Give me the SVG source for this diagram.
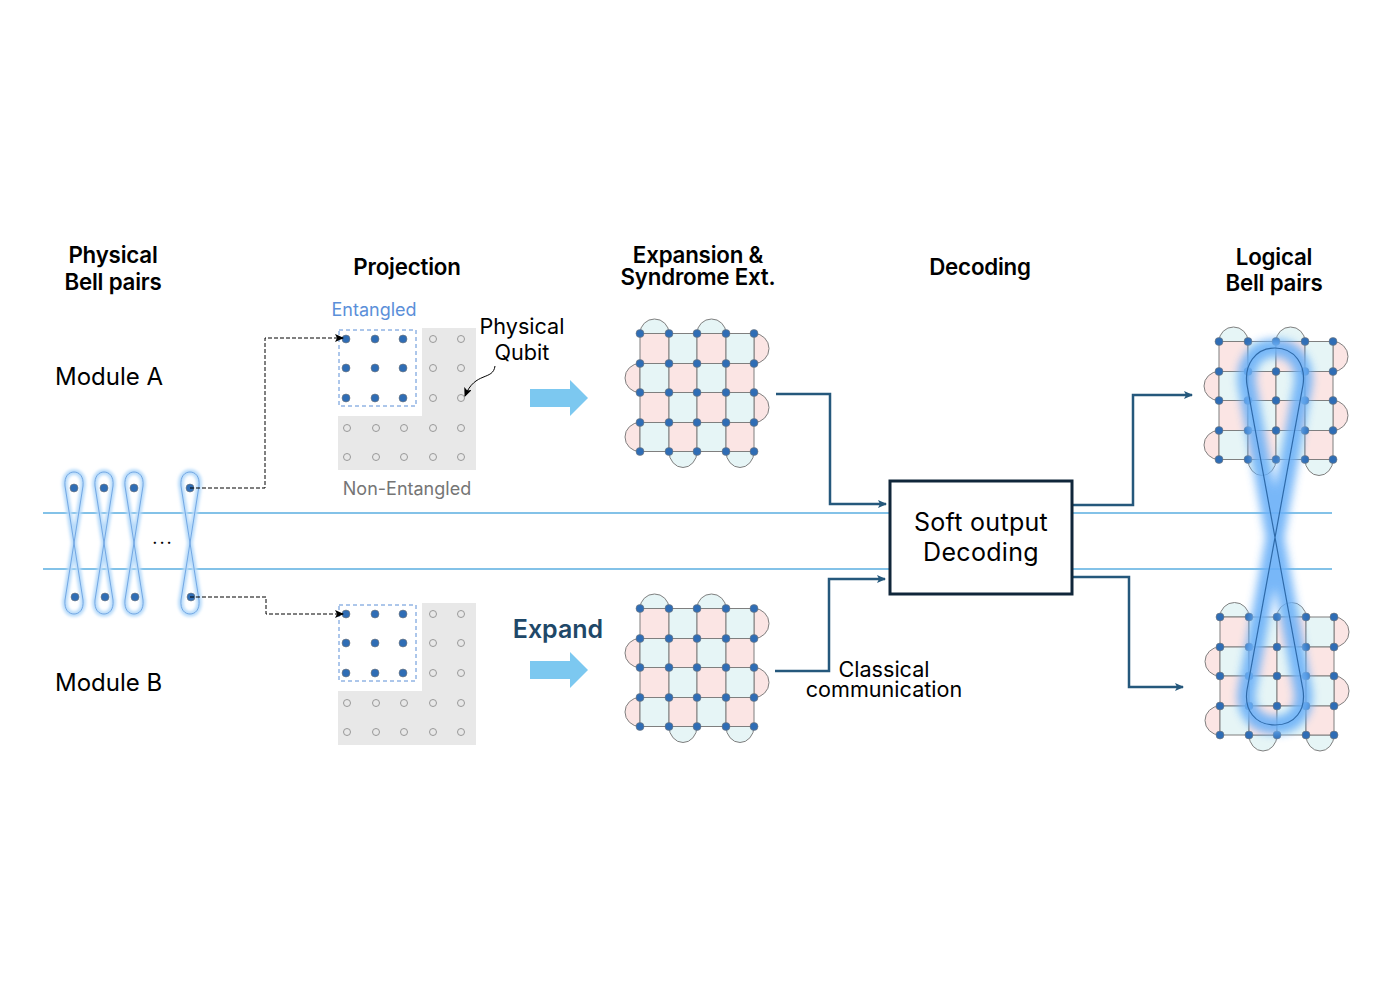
<svg xmlns="http://www.w3.org/2000/svg" xmlns:xlink="http://www.w3.org/1999/xlink" width="1388" height="988" viewBox="0 0 1388 988">
<style>
text{font-family:"Inter","Liberation Sans",sans-serif;fill:#000;text-anchor:middle}
.h{font-size:22.300px;font-weight:600;letter-spacing:-.2px}
.m{font-size:24px;text-anchor:start}
.l{font-size:21.600px}
.flow{fill:none;stroke:#25587c;stroke-width:2.500}
.dash{fill:none;stroke:#000;stroke-width:1;stroke-dasharray:4 2}
.lane{stroke:#5aaee0;stroke-width:1.500}
.p{fill:#fbe5e4;stroke:#7f7f7f;stroke-width:1}
.t{fill:#e6f5f6;stroke:#7f7f7f;stroke-width:1}
.d{fill:#2f6db5;stroke:#777;stroke-width:.6}
.o{fill:none;stroke:#999;stroke-width:1}
.gray{fill:#e8e8e8}
.sq{fill:#fff;stroke:#5b8ed6;stroke-width:1;stroke-dasharray:4 3}
.big{fill:#7cc8f0}
</style>
<defs>
<filter id="blur1" x="-60%" y="-10%" width="220%" height="120%"><feGaussianBlur stdDeviation="1.800"/></filter>
<filter id="blur2" x="-40%" y="-10%" width="180%" height="120%"><feGaussianBlur stdDeviation="4"/></filter>
<marker id="fa" markerWidth="9" markerHeight="8" refX="8" refY="4" orient="auto" markerUnits="userSpaceOnUse"><path d="M0 0L9 4L0 8L2 4Z" fill="#25587c"/></marker>
<marker id="ba" markerWidth="9" markerHeight="8" refX="8" refY="4" orient="auto" markerUnits="userSpaceOnUse"><path d="M0 0L9 4L0 8L2 4Z" fill="#000"/></marker>
<g id="grid">
<path class="t" d="M0 0A14.500 14.500 0 0 1 29 0Z"/><path class="t" d="M57 0A14.500 14.500 0 0 1 86 0Z"/>
<path class="p" d="M114 0A15 15 0 0 1 114 30Z"/><path class="p" d="M114 59A15 15 0 0 1 114 89Z"/>
<path class="p" d="M0 30A15 14.500 0 0 0 0 59Z"/><path class="p" d="M0 89A15 14.500 0 0 0 0 118Z"/>
<path class="t" d="M29 118A14 16 0 0 0 57 118Z"/><path class="t" d="M86 118A14 16 0 0 0 114 118Z"/>
<rect class="p" x="0" y="0" width="29" height="30"/><rect class="t" x="29" y="0" width="28" height="30"/><rect class="p" x="57" y="0" width="29" height="30"/><rect class="t" x="86" y="0" width="28" height="30"/>
<rect class="t" x="0" y="30" width="29" height="29"/><rect class="p" x="29" y="30" width="28" height="29"/><rect class="t" x="57" y="30" width="29" height="29"/><rect class="p" x="86" y="30" width="28" height="29"/>
<rect class="p" x="0" y="59" width="29" height="30"/><rect class="t" x="29" y="59" width="28" height="30"/><rect class="p" x="57" y="59" width="29" height="30"/><rect class="t" x="86" y="59" width="28" height="30"/>
<rect class="t" x="0" y="89" width="29" height="29"/><rect class="p" x="29" y="89" width="28" height="29"/><rect class="t" x="57" y="89" width="29" height="29"/><rect class="p" x="86" y="89" width="28" height="29"/>
<g class="dots">
<circle class="d" cx="0" cy="0" r="4"/><circle class="d" cx="29" cy="0" r="4"/><circle class="d" cx="57" cy="0" r="4"/><circle class="d" cx="86" cy="0" r="4"/><circle class="d" cx="114" cy="0" r="4"/>
<circle class="d" cx="0" cy="30" r="4"/><circle class="d" cx="29" cy="30" r="4"/><circle class="d" cx="57" cy="30" r="4"/><circle class="d" cx="86" cy="30" r="4"/><circle class="d" cx="114" cy="30" r="4"/>
<circle class="d" cx="0" cy="59" r="4"/><circle class="d" cx="29" cy="59" r="4"/><circle class="d" cx="57" cy="59" r="4"/><circle class="d" cx="86" cy="59" r="4"/><circle class="d" cx="114" cy="59" r="4"/>
<circle class="d" cx="0" cy="89" r="4"/><circle class="d" cx="29" cy="89" r="4"/><circle class="d" cx="57" cy="89" r="4"/><circle class="d" cx="86" cy="89" r="4"/><circle class="d" cx="114" cy="89" r="4"/>
<circle class="d" cx="0" cy="118" r="4"/><circle class="d" cx="29" cy="118" r="4"/><circle class="d" cx="57" cy="118" r="4"/><circle class="d" cx="86" cy="118" r="4"/><circle class="d" cx="114" cy="118" r="4"/>
</g>
</g>
<path id="loop" d="M-9 486C-10 476 -5 472 0 472C5 472 10 476 9 486L-9 600C-10 610 -5 614 0 614C5 614 10 610 9 600Z" fill="none"/>
<g id="pair">
<use xlink:href="#loop" href="#loop" stroke="#b8dbfa" stroke-width="5.500" filter="url(#blur1)"/>
<use xlink:href="#loop" href="#loop" stroke="#6aa0e0" stroke-width=".9"/>
<circle class="d" cx="0" cy="488" r="4"/><circle class="d" cx="1" cy="597" r="4"/>
</g>
<g id="proj">
<path class="gray" d="M84 0H138V142H0V88H84Z"/>
<circle class="o" cx="95" cy="11" r="3.500"/><circle class="o" cx="123" cy="11" r="3.500"/>
<circle class="o" cx="95" cy="40" r="3.500"/><circle class="o" cx="123" cy="40" r="3.500"/>
<circle class="o" cx="95" cy="70" r="3.500"/><circle class="o" cx="123" cy="70" r="3.500"/>
<circle class="o" cx="9" cy="100" r="3.500"/><circle class="o" cx="38" cy="100" r="3.500"/><circle class="o" cx="66" cy="100" r="3.500"/><circle class="o" cx="95" cy="100" r="3.500"/><circle class="o" cx="123" cy="100" r="3.500"/>
<circle class="o" cx="9" cy="129" r="3.500"/><circle class="o" cx="38" cy="129" r="3.500"/><circle class="o" cx="66" cy="129" r="3.500"/><circle class="o" cx="95" cy="129" r="3.500"/><circle class="o" cx="123" cy="129" r="3.500"/>
<rect class="sq" x="1" y="2" width="77" height="76"/>
<circle class="d" cx="8" cy="11" r="4"/><circle class="d" cx="37" cy="11" r="4"/><circle class="d" cx="65" cy="11" r="4"/>
<circle class="d" cx="8" cy="40" r="4"/><circle class="d" cx="37" cy="40" r="4"/><circle class="d" cx="65" cy="40" r="4"/>
<circle class="d" cx="8" cy="70" r="4"/><circle class="d" cx="37" cy="70" r="4"/><circle class="d" cx="65" cy="70" r="4"/>
</g>
</defs>

<g id="lanes">
<line class="lane" x1="43" y1="513" x2="1332" y2="513"/>
<line class="lane" x1="43" y1="569" x2="1332" y2="569"/>
</g>

<g id="headings">
<text class="h" x="113" y="263">Physical</text><text class="h" x="113" y="290">Bell pairs</text>
<text class="h" x="407" y="275">Projection</text>
<text class="h" x="698" y="263">Expansion &amp;</text><text class="h" x="698" y="285">Syndrome Ext.</text>
<text class="h" x="980" y="275">Decoding</text>
<text class="h" x="1274" y="265">Logical</text><text class="h" x="1274" y="291">Bell pairs</text>
<text class="m" x="55" y="385">Module A</text>
<text class="m" x="55" y="691">Module B</text>
</g>

<g id="bell-pairs">
<use xlink:href="#pair" href="#pair" x="74"/>
<use xlink:href="#pair" href="#pair" x="104"/>
<use xlink:href="#pair" href="#pair" x="134"/>
<use xlink:href="#pair" href="#pair" x="190"/>
<text x="163" y="544" style="font-size:18px;letter-spacing:2px">...</text>
</g>

<g id="projection-a">
<use xlink:href="#proj" href="#proj" x="338" y="328"/>
<text x="374" y="316" style="font-size:18px;fill:#5b8fd9">Entangled</text>
<text x="407" y="495" style="font-size:18px;fill:#757575">Non-Entangled</text>
<text class="l" x="522" y="334">Physical</text><text class="l" x="522" y="360">Qubit</text>
</g>
<g id="projection-b">
<use xlink:href="#proj" href="#proj" x="338" y="603"/>
</g>

<g id="arrow-a"><polygon class="big" points="530,389 570,389 570,380 588,398 570,416 570,407 530,407"/></g>
<g id="arrow-b"><polygon class="big" points="530,661 570,661 570,652 588,670 570,688 570,679 530,679"/>
<text x="558" y="638" style="font-size:25px;font-weight:600;fill:#1f4868">Expand</text></g>

<g id="code-a"><use xlink:href="#grid" href="#grid" x="640" y="333.500"/></g>
<g id="code-b"><use xlink:href="#grid" href="#grid" x="640" y="608.500"/></g>
<g id="logical-a"><use xlink:href="#grid" href="#grid" x="1219" y="341.500"/></g>
<g id="logical-b"><use xlink:href="#grid" href="#grid" x="1220" y="617"/></g>

<g id="logical-loop">
<path d="M1303 385L1247 690C1244 710 1255 725 1275 725C1295 725 1306 710 1303 690L1247 385C1244 365 1255 348 1275 348C1295 348 1306 365 1303 385Z" fill="none" stroke="#6ab0f8" stroke-width="18" filter="url(#blur2)" opacity=".9"/>
<path d="M1303 385L1247 690C1244 710 1255 725 1275 725C1295 725 1306 710 1303 690L1247 385C1244 365 1255 348 1275 348C1295 348 1306 365 1303 385Z" fill="none" stroke="#2f6aa8" stroke-width="1.200"/>
</g>

<g id="connectors">
<path class="dash" d="M190 488H265V338H343" marker-end="url(#ba)"/>
<path class="dash" d="M190 597H266V614H343" marker-end="url(#ba)"/>
<path d="M495 366C493 381 475 371 465 396" fill="none" stroke="#000" stroke-width="1" marker-end="url(#ba)"/>
<path class="flow" d="M776 394H830V504H886" marker-end="url(#fa)"/>
<path class="flow" d="M775 671H829V579H885" marker-end="url(#fa)"/>
<path class="flow" d="M1073 505H1133V395H1192" marker-end="url(#fa)"/>
<path class="flow" d="M1073 577H1129V687H1183" marker-end="url(#fa)"/>
</g>

<g id="decoder">
<rect x="890" y="481" width="182" height="113" fill="#fff" stroke="#10263a" stroke-width="3"/>
<text x="981" y="531" style="font-size:25px;letter-spacing:.3px">Soft output</text>
<text x="981" y="561" style="font-size:25px;letter-spacing:.3px">Decoding</text>
</g>

<g id="classical">
<text class="l" x="884" y="677">Classical</text>
<text class="l" x="884" y="697">communication</text>
</g>
</svg>
